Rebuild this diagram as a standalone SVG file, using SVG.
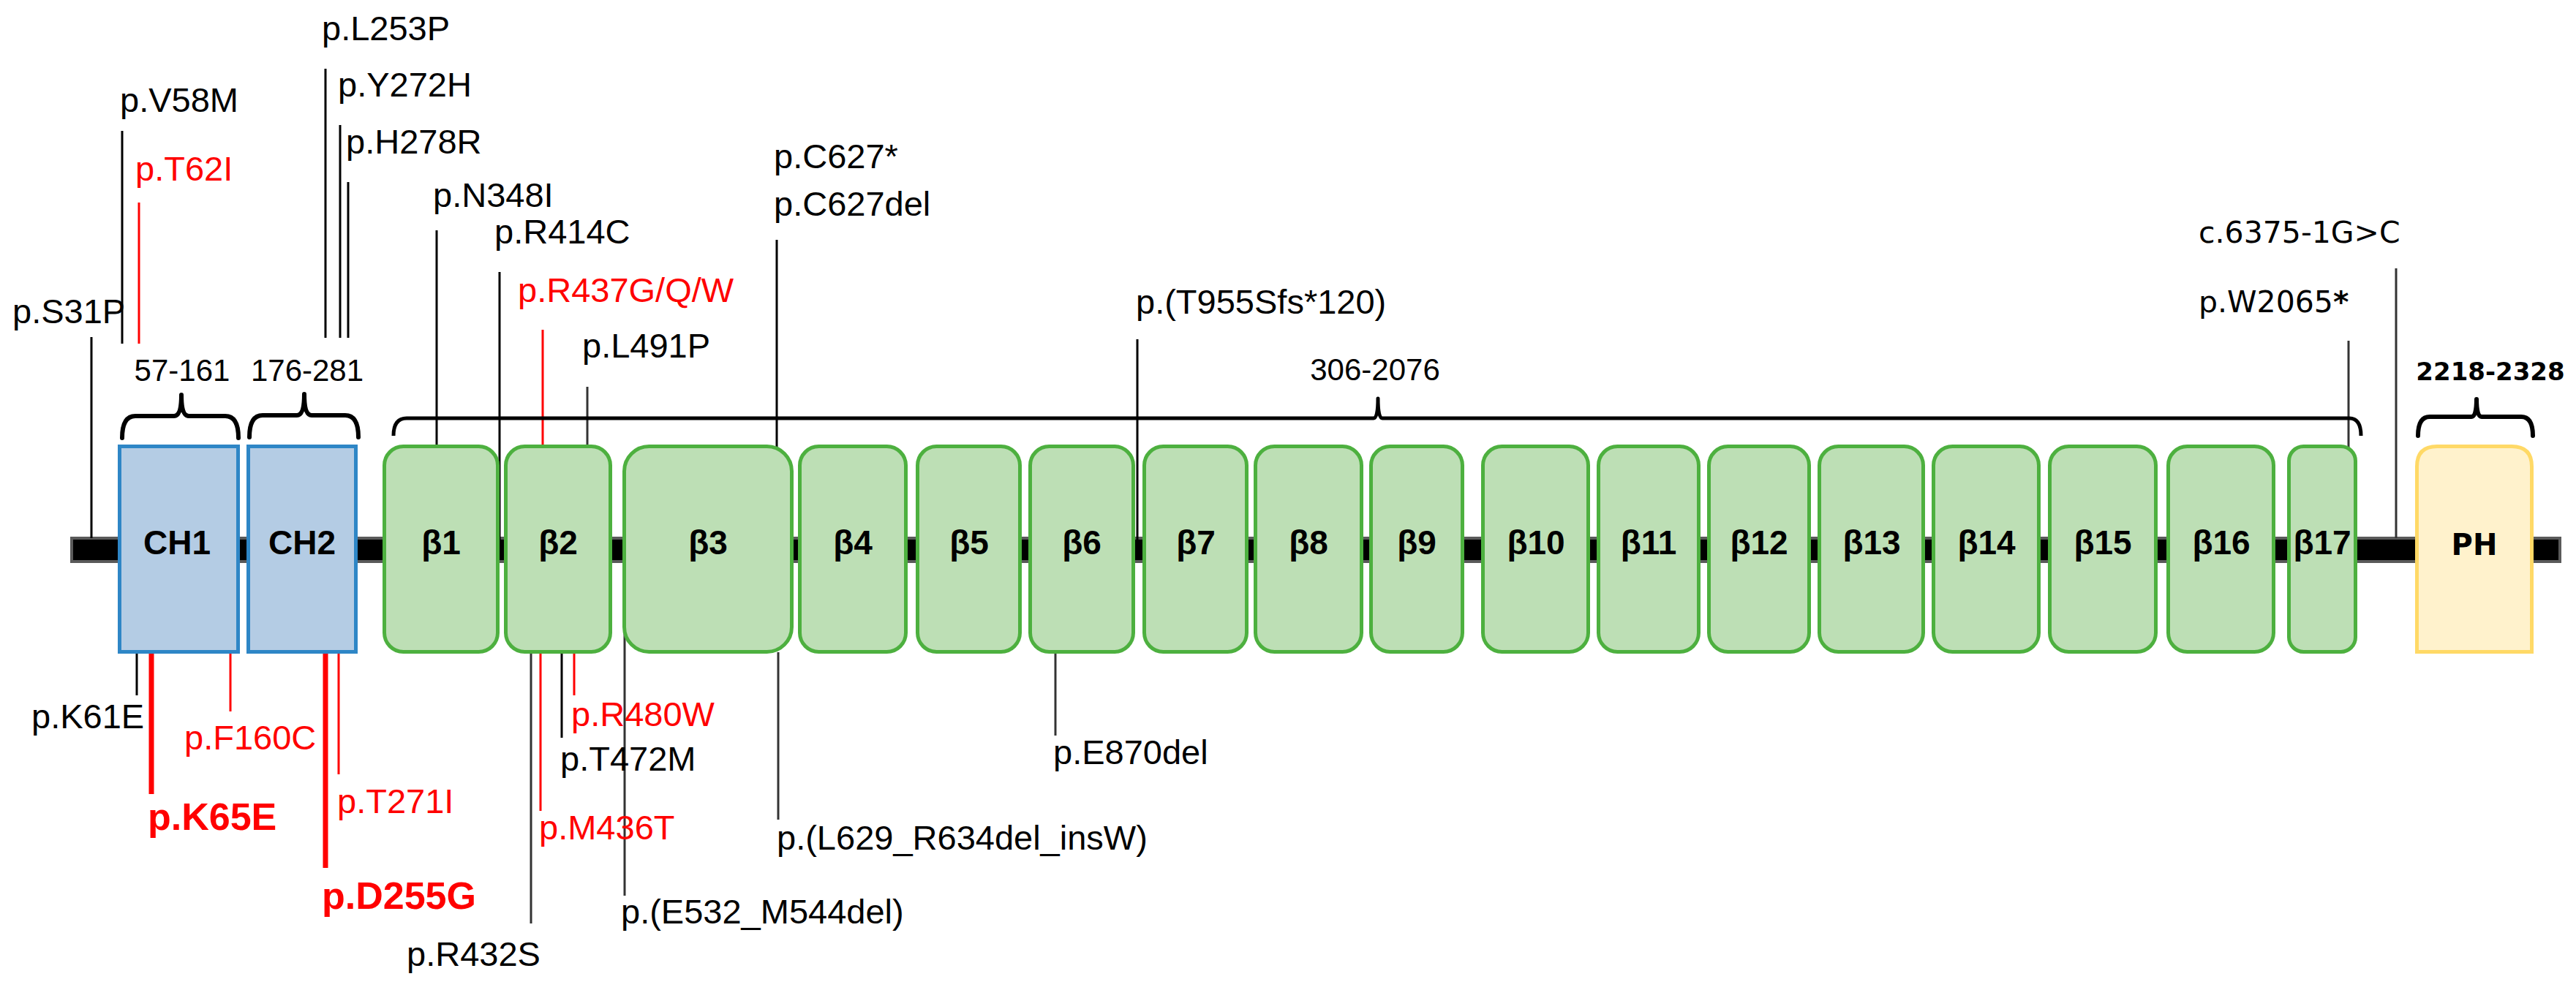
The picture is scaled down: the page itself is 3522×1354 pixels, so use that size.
<svg xmlns="http://www.w3.org/2000/svg" width="3522" height="1354" viewBox="0 0 3522 1354">
<style>
.bg{fill:#fff}
.t{font-family:"Liberation Sans",Arial,sans-serif;font-size:47px;fill:#000}
.tv{font-family:"DejaVu Sans",Verdana,sans-serif;font-size:41px;fill:#000}
.r{fill:#f00}
.big{font-weight:bold;font-size:52px}
.rng{font-family:"Liberation Sans",Arial,sans-serif;font-size:42px;fill:#000;text-anchor:middle}
.rngb{font-family:"DejaVu Sans",Verdana,sans-serif;font-size:34px;font-weight:bold;fill:#000;text-anchor:middle}
.dl{font-family:"Liberation Sans",Arial,sans-serif;font-size:46px;font-weight:bold;fill:#000;text-anchor:middle}
.dlv{font-family:"DejaVu Sans",Verdana,sans-serif;font-size:40px;font-weight:bold;fill:#000;text-anchor:middle}
.ch{fill:#B4CCE4;stroke:#2E86C6;stroke-width:5}
.bt{fill:#BDDFB5;stroke:#4DB03F;stroke-width:5}
.ph{fill:#FFF2CC;stroke:#FFD966;stroke-width:5}
.ln{stroke:#000;stroke-width:3;fill:none}
.lg{stroke:#333;stroke-width:3;fill:none}
.lr{stroke:#f00;stroke-width:3;fill:none}
.lrt{stroke:#f00;stroke-width:7;fill:none}
.brace{fill:none;stroke:#000;stroke-width:6;stroke-linejoin:round;stroke-linecap:round}
.braceb{fill:none;stroke:#000;stroke-width:5;stroke-linejoin:round}
</style>
<rect class="bg" x="0" y="0" width="3522" height="1354"/>

<g id="backbone">
<rect x="98" y="736" width="3402" height="32" fill="#000" stroke="#5a5a5a" stroke-width="4"/>
</g>

<g id="connectors">
<!-- top -->
<line class="ln" x1="125" y1="461" x2="125" y2="736"/>
<line class="ln" x1="167" y1="179" x2="167" y2="470"/>
<line class="lr" x1="190" y1="277" x2="190" y2="470"/>
<line class="ln" x1="445" y1="94" x2="445" y2="462"/>
<line class="ln" x1="465" y1="171" x2="465" y2="462"/>
<line class="ln" x1="476" y1="249" x2="476" y2="462"/>
<line class="ln" x1="597" y1="315" x2="597" y2="612"/>
<line class="ln" x1="683" y1="372" x2="683" y2="745"/>
<line class="lr" x1="742" y1="451" x2="742" y2="612"/>
<line class="lg" x1="803" y1="529" x2="803" y2="612"/>
<line class="ln" x1="1062" y1="328" x2="1062" y2="612"/>
<line class="ln" x1="1555" y1="464" x2="1555" y2="745"/>
<line class="lg" x1="3211" y1="466" x2="3211" y2="612"/>
<line class="lg" x1="3276" y1="367" x2="3276" y2="736"/>
<!-- bottom -->
<line class="ln" x1="187" y1="892" x2="187" y2="951"/>
<line class="lrt" x1="207" y1="892" x2="207" y2="1086"/>
<line class="lr" x1="315" y1="892" x2="315" y2="973"/>
<line class="lrt" x1="445" y1="892" x2="445" y2="1187"/>
<line class="lr" x1="463" y1="892" x2="463" y2="1059"/>
<line class="lg" x1="726" y1="892" x2="726" y2="1263"/>
<line class="lr" x1="739" y1="892" x2="739" y2="1109"/>
<line class="ln" x1="768" y1="892" x2="768" y2="1009"/>
<line class="lr" x1="785" y1="892" x2="785" y2="951"/>
<line class="lg" x1="854" y1="860" x2="854" y2="1225"/>
<line class="lg" x1="1064" y1="892" x2="1064" y2="1121"/>
<line class="lg" x1="1443" y1="892" x2="1443" y2="1006"/>
</g>

<g id="brackets">
<path class="brace" d="M167,599 Q167,569 185,569 H238 Q248,569 248,540 Q248,569 258,569 H308 Q326,569 326,599"/>
<path class="brace" d="M341,598 Q341,568 359,568 H406 Q416,568 416,539 Q416,568 426,568 H472 Q490,568 490,598"/>
<path class="braceb" d="M538,596 Q538,572 556,572 H1878 Q1884,572 1884,545 Q1884,572 1890,572 H3212 Q3228,572 3228,596"/>
<path class="brace" d="M3306,596 Q3306,570 3322,570 H3379 Q3386,570 3386,546 Q3386,570 3393,570 H3447 Q3463,570 3463,596"/>
<text class="rng" x="249" y="521">57-161</text>
<text class="rng" x="420" y="521">176-281</text>
<text class="rng" x="1880" y="520">306-2076</text>
<text class="rngb" x="3405" y="520">2218-2328</text>
</g>

<g id="CH1"><rect class="ch" x="163.5" y="610.5" width="162" height="281"/><text class="dl" x="242" y="758">CH1</text></g>
<g id="CH2"><rect class="ch" x="339.5" y="610.5" width="147" height="281"/><text class="dl" x="413" y="758">CH2</text></g>
<g id="b1"><rect class="bt" x="525.5" y="610.5" width="155" height="281" rx="26"/><text class="dl" x="603" y="758">β1</text></g>
<g id="b2"><rect class="bt" x="691.5" y="610.5" width="143" height="281" rx="26"/><text class="dl" x="763" y="758">β2</text></g>
<g id="b3"><rect class="bt" x="853.5" y="610.5" width="229" height="281" rx="34"/><text class="dl" x="968" y="758">β3</text></g>
<g id="b4"><rect class="bt" x="1093.5" y="610.5" width="145" height="281" rx="26"/><text class="dl" x="1166" y="758">β4</text></g>
<g id="b5"><rect class="bt" x="1254.5" y="610.5" width="140" height="281" rx="26"/><text class="dl" x="1325" y="758">β5</text></g>
<g id="b6"><rect class="bt" x="1408.5" y="610.5" width="141" height="281" rx="26"/><text class="dl" x="1479" y="758">β6</text></g>
<g id="b7"><rect class="bt" x="1564.5" y="610.5" width="140" height="281" rx="26"/><text class="dl" x="1635" y="758">β7</text></g>
<g id="b8"><rect class="bt" x="1716.5" y="610.5" width="145" height="281" rx="26"/><text class="dl" x="1789" y="758">β8</text></g>
<g id="b9"><rect class="bt" x="1874.5" y="610.5" width="125" height="281" rx="26"/><text class="dl" x="1937" y="758">β9</text></g>
<g id="b10"><rect class="bt" x="2027.5" y="610.5" width="144" height="281" rx="26"/><text class="dl" x="2100" y="758">β10</text></g>
<g id="b11"><rect class="bt" x="2185.5" y="610.5" width="137" height="281" rx="26"/><text class="dl" x="2254" y="758">β11</text></g>
<g id="b12"><rect class="bt" x="2336.5" y="610.5" width="137" height="281" rx="26"/><text class="dl" x="2405" y="758">β12</text></g>
<g id="b13"><rect class="bt" x="2487.5" y="610.5" width="142" height="281" rx="26"/><text class="dl" x="2559" y="758">β13</text></g>
<g id="b14"><rect class="bt" x="2643.5" y="610.5" width="144" height="281" rx="26"/><text class="dl" x="2716" y="758">β14</text></g>
<g id="b15"><rect class="bt" x="2802.5" y="610.5" width="145" height="281" rx="26"/><text class="dl" x="2875" y="758">β15</text></g>
<g id="b16"><rect class="bt" x="2964.5" y="610.5" width="144" height="281" rx="26"/><text class="dl" x="3037" y="758">β16</text></g>
<g id="b17"><rect class="bt" x="3129.5" y="610.5" width="91" height="281" rx="20"/><text class="dl" x="3175" y="758">β17</text></g>
<g id="PH"><path class="ph" d="M3304.5,891.5 V638 Q3304.5,610.5 3332,610.5 H3434 Q3461.5,610.5 3461.5,638 V891.5 Z"/><text class="dlv" x="3383" y="759">PH</text></g>

<g id="mutations-top">
<text class="t" x="17" y="442">p.S31P</text>
<text class="t" x="164" y="153">p.V58M</text>
<text class="t r" x="185" y="247">p.T62I</text>
<text class="t" x="440" y="55">p.L253P</text>
<text class="t" x="462" y="132">p.Y272H</text>
<text class="t" x="473" y="210">p.H278R</text>
<text class="t" x="592" y="283">p.N348I</text>
<text class="t" x="676" y="333">p.R414C</text>
<text class="t r" x="708" y="413">p.R437G/Q/W</text>
<text class="t" x="796" y="489">p.L491P</text>
<text class="t" x="1058" y="230">p.C627*</text>
<text class="t" x="1058" y="295">p.C627del</text>
<text class="t" x="1553" y="429">p.(T955Sfs*120)</text>
<text class="tv" x="3006" y="332">c.6375-1G&gt;C</text>
<text class="tv" x="3006" y="427">p.W2065<tspan font-weight="bold">*</tspan></text>
</g>

<g id="mutations-bottom">
<text class="t" x="43" y="996">p.K61E</text>
<text class="t r big" x="202" y="1135">p.K65E</text>
<text class="t r" x="252" y="1025">p.F160C</text>
<text class="t r big" x="440" y="1243">p.D255G</text>
<text class="t r" x="461" y="1112">p.T271I</text>
<text class="t" x="556" y="1321">p.R432S</text>
<text class="t r" x="737" y="1148">p.M436T</text>
<text class="t" x="766" y="1054">p.T472M</text>
<text class="t r" x="781" y="993">p.R480W</text>
<text class="t" x="849" y="1263">p.(E532_M544del)</text>
<text class="t" x="1062" y="1162">p.(L629_R634del_insW)</text>
<text class="t" x="1440" y="1045">p.E870del</text>
</g>
</svg>
